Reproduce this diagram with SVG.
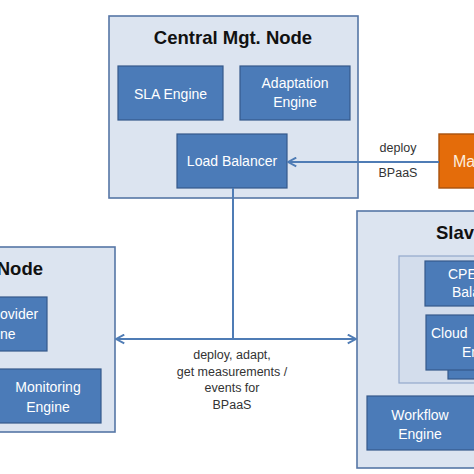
<svg xmlns="http://www.w3.org/2000/svg" width="474" height="474" viewBox="0 0 474 474">
<defs>
<style>
.outer{fill:#dce4f0;stroke:#5676a6;stroke-width:1.6}
.inner{fill:#d3ddec;stroke:#93a9cc;stroke-width:1.2}
.box{fill:#4b7bb8;stroke:#35598a;stroke-width:1.2}
.orange{fill:#e46c0a;stroke:#a8520e;stroke-width:1.4}
.t{font-family:"Liberation Sans",Arial,sans-serif;font-size:14px;fill:#ffffff}
.title{font-family:"Liberation Sans",Arial,sans-serif;font-size:18.5px;font-weight:bold;fill:#111111}
.lbl{font-family:"Liberation Sans",Arial,sans-serif;font-size:12.5px;fill:#333333}
.c{fill:none;stroke:#4f7cb5;stroke-width:2}
</style>
<marker id="arr" viewBox="0 0 10 10" refX="9" refY="5" markerWidth="11" markerHeight="11" markerUnits="userSpaceOnUse" orient="auto-start-reverse">
<path d="M1.5,1 L9,5 L1.5,9" fill="none" stroke="#4f7cb5" stroke-width="1.8"/>
</marker>
</defs>
<rect width="474" height="474" fill="#ffffff"/>

<g id="central">
<rect class="outer" x="109" y="16" width="249" height="182"/>
<text class="title" x="233" y="44" text-anchor="middle">Central Mgt. Node</text>
<g id="sla"><rect class="box" x="118" y="66" width="105" height="54"/>
<text class="t" x="170.5" y="99" text-anchor="middle">SLA Engine</text></g>
<g id="adapt"><rect class="box" x="240" y="66" width="110" height="54"/>
<text class="t" x="295" y="88" text-anchor="middle">Adaptation</text>
<text class="t" x="295" y="107" text-anchor="middle">Engine</text></g>
<g id="lb"><rect class="box" x="177" y="134" width="110" height="54"/>
<text class="t" x="232" y="166" text-anchor="middle">Load Balancer</text></g>
</g>

<g id="manager">
<rect class="orange" x="439" y="134" width="40" height="54"/>
<text class="t" x="453" y="167" style="font-size:16px;fill:#fdeede">Ma</text>
</g>

<g id="left-node">
<rect class="outer" x="-2" y="247" width="117" height="185"/>
<text class="title" x="43" y="275" text-anchor="end">Node</text>
<g id="provider"><rect class="box" x="-2" y="297" width="49" height="54"/>
<text class="t" x="0" y="319">ovider</text>
<text class="t" x="0" y="339">ne</text></g>
<g id="monitoring"><rect class="box" x="-2" y="369" width="103" height="54"/>
<text class="t" x="48" y="392" text-anchor="middle">Monitoring</text>
<text class="t" x="48" y="412" text-anchor="middle">Engine</text></g>
</g>

<g id="slave-node">
<rect class="outer" x="357" y="211" width="120" height="257"/>
<text class="title" x="436" y="239">Slave</text>
<rect class="inner" x="399" y="256" width="78" height="127"/>
<g id="cpe"><rect class="box" x="425" y="261" width="52" height="45"/>
<text class="t" x="448" y="279">CPE</text>
<text class="t" x="452" y="297">Bala</text></g>
<g id="cloud"><rect class="box" x="448" y="324" width="30" height="55"/>
<rect class="box" x="426" y="315" width="51" height="55"/>
<text class="t" x="431" y="338">Cloud</text>
<text class="t" x="462" y="357">En</text></g>
<g id="workflow"><rect class="box" x="367" y="396" width="110" height="54"/>
<text class="t" x="420" y="420" text-anchor="middle">Workflow</text>
<text class="t" x="420" y="439" text-anchor="middle">Engine</text></g>
</g>

<g id="connectors">
<line class="c" x1="439" y1="162" x2="288" y2="162" marker-end="url(#arr)"/>
<line class="c" x1="233" y1="188" x2="233" y2="339"/>
<line class="c" x1="116" y1="339" x2="356" y2="339" marker-start="url(#arr)" marker-end="url(#arr)"/>
<text class="lbl" x="398" y="152" text-anchor="middle">deploy</text>
<text class="lbl" x="398" y="177" text-anchor="middle">BPaaS</text>
<text class="lbl" x="232" y="359" text-anchor="middle">deploy, adapt,</text>
<text class="lbl" x="232" y="376" text-anchor="middle">get measurements /</text>
<text class="lbl" x="232" y="392" text-anchor="middle">events for</text>
<text class="lbl" x="232" y="409" text-anchor="middle">BPaaS</text>
</g>
</svg>
